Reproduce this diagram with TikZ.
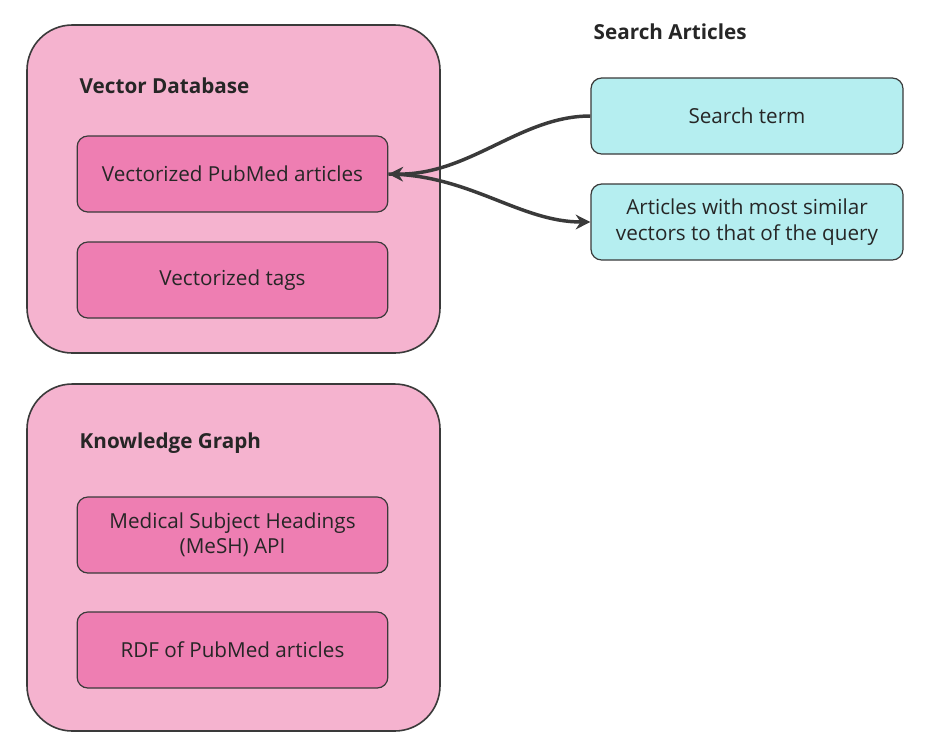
\documentclass[tikz,border=0pt]{standalone}
\usepackage{fontspec}
\setmainfont{Open Sans}
\usetikzlibrary{arrows.meta}
\definecolor{outerpink}{HTML}{F5B3CF}
\definecolor{innerpink}{HTML}{EE7EB2}
\definecolor{cyanbox}{HTML}{B5EEF0}
\definecolor{edge}{HTML}{3A3A3A}
\tikzset{
  outerbox/.style={draw=edge,line width=1.2pt,fill=outerpink,rounded corners=34pt},
  innerbox/.style={draw=edge,line width=0.9pt,fill=innerpink,rounded corners=8pt,minimum width=233pt,minimum height=57pt,align=center,font=\fontsize{15.5}{19}\selectfont,text=black!85},
  cbox/.style={draw=edge,line width=0.9pt,fill=cyanbox,rounded corners=8pt,minimum width=234pt,minimum height=57pt,align=center,font=\fontsize{15.5}{19}\selectfont,text=black!85},
  ttl/.style={anchor=west,font=\bfseries\fontsize{15.5}{19}\selectfont,text=black!85},
  conn/.style={draw=edge,line width=2.6pt,-{Stealth[length=11pt,width=11pt]}}
}
\begin{document}
\begin{tikzpicture}[x=0.75pt,y=-0.75pt]
\useasboundingbox (0,0) rectangle (939,744);
\fill[white] (0,0) rectangle (939,744);
\draw[outerbox] (27,25) rectangle (440,353);
\draw[outerbox] (27,384) rectangle (440,731);
\node[ttl] (vdb) at (75,86) {Vector Database};
\node[ttl] (kg) at (75,443) {Knowledge Graph};
\node[ttl] (sa) at (589,32) {Search Articles};
\node[innerbox] (vpa) at (232.5,174) {Vectorized PubMed articles};
\node[innerbox] (vt) at (232.5,280) {Vectorized tags};
\node[innerbox] (mesh) at (232.5,535) {Medical Subject Headings\\(MeSH) API};
\node[innerbox] (rdf) at (232.5,650) {RDF of PubMed articles};
\node[cbox] (st) at (747,116) {Search term};
\node[cbox] (res) at (747,222) {Articles with most similar\\vectors to that of the query};
\draw[conn] (st.west) .. controls (520,116) and (470,175) .. (vpa.east);
\draw[conn] (vpa.east) .. controls (470,175) and (520,222) .. (res.west);
\end{tikzpicture}
\end{document}
